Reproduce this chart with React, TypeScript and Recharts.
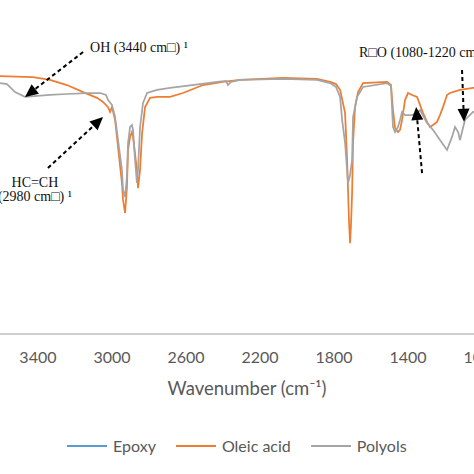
import { LineChart, Line, XAxis, YAxis, ReferenceLine } from "recharts";

// Polyols (grey) trace, wavenumber in cm-1 and transmittance
const polyolsWavenumber = [
  3605, 3567, 3524, 3470, 3335, 3243, 3135, 3064, 3032, 3021, 3000, 2983, 2967, 2946, 2940, 2929, 2919, 2913,
  2902, 2892, 2886, 2875, 2865, 2859, 2848, 2832, 2810, 2756, 2686, 2524, 2432, 2383, 2373, 2356, 2308, 2075,
  1892, 1821, 1789, 1767, 1756, 1740, 1724, 1713, 1702, 1697, 1675, 1643, 1513, 1492, 1481, 1470, 1454, 1443,
  1432, 1416, 1378, 1335, 1297, 1265, 1227, 1189, 1162, 1146, 1129, 1119, 1092, 1048, 957,
];
const polyolsT = [
  78.4, 78.1, 75.6, 74.1, 74.7, 75.0, 75.3, 75.3, 74.7, 73.1, 71.6, 67.8, 60.6, 51.3, 45.0, 42.8, 49.1, 59.7,
  64.7, 65.3, 63.8, 54.4, 47.2, 51.3, 64.7, 72.2, 75.3, 76.3, 76.9, 78.1, 78.8, 79.1, 77.8, 78.8, 79.4, 79.7,
  79.4, 78.4, 77.2, 74.1, 66.9, 59.7, 47.2, 49.7, 54.4, 67.8, 74.1, 77.2, 78.4, 77.5, 64.7, 63.1, 64.7, 66.9,
  69.4, 68.4, 68.4, 70.0, 65.9, 63.8, 60.6, 57.5, 61.6, 64.7, 63.1, 60.6, 66.9, 69.4, 70.0,
];

// Oleic acid (orange) trace
const oleicWavenumber = [
  3605, 3427, 3335, 3243, 3156, 3081, 3048, 3021, 3010, 3000, 2983, 2967, 2946, 2940, 2929, 2919, 2913, 2902,
  2892, 2886, 2865, 2859, 2848, 2837, 2821, 2794, 2756, 2686, 2616, 2508, 2400, 2308, 2075, 1892, 1821, 1789,
  1767, 1740, 1729, 1719, 1713, 1708, 1702, 1697, 1686, 1670, 1643, 1513, 1492, 1481, 1470, 1454, 1443, 1432,
  1416, 1400, 1378, 1351, 1335, 1319, 1297, 1281, 1265, 1243, 1227, 1211, 1189, 1173, 1119, 1048, 957,
];
const oleicT = [
  80.6, 80.3, 79.4, 77.8, 75.6, 73.8, 72.5, 70.9, 69.4, 70.9, 66.9, 58.4, 47.2, 41.9, 37.8, 45.9, 57.5, 61.6,
  63.1, 61.6, 51.3, 45.6, 51.3, 62.8, 70.9, 73.8, 74.1, 74.1, 75.3, 77.8, 78.8, 79.4, 80.0, 79.7, 78.8, 78.1,
  76.3, 69.1, 54.4, 35.6, 28.4, 34.1, 44.1, 59.7, 70.9, 75.6, 78.4, 78.8, 77.8, 70.0, 64.4, 63.1, 63.8, 66.9,
  73.1, 75.3, 74.7, 74.1, 71.6, 69.1, 66.3, 64.7, 65.3, 66.3, 68.4, 70.9, 74.7, 75.3, 76.3, 76.9, 77.2,
];

const xTicks = [3400, 3000, 2600, 2200, 1800, 1400, 1000];

const legendNames = ["Epoxy", "Oleic acid", "Polyols"];
const legendColors = ["#5B9BD5", "#ED7D31", "#A5A5A5"];

// annotation arrows: tail -> head, in data units
const arrows = [
  { tail: [3156, 88.1], head: [3470, 74.1], lines: ["OH (3440 cm\u25A1) \u00B9"], dx: 7, dy: 0, anchor: "start" },
  { tail: [3346, 51.9], head: [3048, 67.8], lines: ["HC=CH", "(2980 cm\u25A1) \u00B9"], dx: -13, dy: 19, anchor: "middle" },
  { tail: [1324, 50.3], head: [1356, 70.9], lines: [], dx: 0, dy: 0, anchor: "start" },
  { tail: [1108, 82.5], head: [1097, 66.3], lines: ["R\u25A1O (1080-1220 cm\u25A1) \u00B9"], dx: -103, dy: -13, anchor: "start" },
];

const polyolsData = polyolsWavenumber.map((wn, i) => ({ wn, t: polyolsT[i] }));
const oleicData = oleicWavenumber.map((wn, i) => ({ wn, t: oleicT[i] }));

function arrowShape(lines: string[], dx: number, dy: number, anchor: string) {
  return (props: any) => {
    const { x1, y1, x2, y2 } = props;
    const ang = Math.atan2(y2 - y1, x2 - x1);
    const len = 13;
    const half = 6;
    const bx = x2 - len * Math.cos(ang);
    const by = y2 - len * Math.sin(ang);
    const px = -Math.sin(ang) * half;
    const py = Math.cos(ang) * half;
    return (
      <g>
        <line x1={x1} y1={y1} x2={bx} y2={by} stroke="#000" strokeWidth={2} strokeDasharray="4 3" />
        <polygon points={`${x2},${y2} ${bx + px},${by + py} ${bx - px},${by - py}`} fill="#000" />
        {lines.map((s, i) => (
          <text
            key={i}
            x={x1 + dx}
            y={y1 + dy + i * 14}
            textAnchor={anchor as any}
            fontFamily="'Liberation Serif', serif"
            fontSize={14}
            fill="#111"
          >
            {s}
          </text>
        ))}
      </g>
    );
  };
}

export default function App() {
  return (
    <div
      style={{
        position: "fixed",
        left: 0,
        top: 0,
        width: 474,
        height: 474,
        overflow: "hidden",
        background: "#fff",
      }}
    >
      <LineChart width={519} height={474} margin={{ top: 14, right: 0, bottom: 110, left: 0 }}>
        <XAxis
          dataKey="wn"
          type="number"
          domain={[800, 3605]}
          reversed
          allowDataOverflow
          ticks={xTicks}
          tickLine={false}
          tickMargin={12}
          axisLine={{ stroke: "#BFBFBF", strokeWidth: 1.5 }}
          tick={{ fill: "#595959", fontSize: 16, fontFamily: "Lato, sans-serif" }}
          height={30}
        />
        <YAxis type="number" domain={[0, 100]} hide />
        <Line
          data={oleicData}
          dataKey="t"
          name="Oleic acid"
          stroke="#ED7D31"
          strokeWidth={1.75}
          dot={false}
          type="linear"
          isAnimationActive={false}
        />
        <Line
          data={polyolsData}
          dataKey="t"
          name="Polyols"
          stroke="#A5A5A5"
          strokeWidth={1.75}
          dot={false}
          type="linear"
          isAnimationActive={false}
        />
        {arrows.map((a, i) => (
          <ReferenceLine
            key={i}
            segment={[
              { x: a.tail[0], y: a.tail[1] },
              { x: a.head[0], y: a.head[1] },
            ]}
            ifOverflow="visible"
            shape={arrowShape(a.lines, a.dx, a.dy, a.anchor)}
          />
        ))}
      </LineChart>
      <div
        style={{
          position: "absolute",
          left: 0,
          top: 376,
          width: 494,
          textAlign: "center",
          fontFamily: "Lato, sans-serif",
          fontSize: 18.5,
          lineHeight: "24px",
          color: "#595959",
        }}
      >
        Wavenumber (cm⁻¹)
      </div>
      <div
        style={{
          position: "absolute",
          left: 67,
          top: 436,
          display: "flex",
          alignItems: "center",
          fontFamily: "Lato, sans-serif",
          fontSize: 16,
          lineHeight: "20px",
          color: "#595959",
        }}
      >
        {legendNames.map((name, i) => (
          <div key={name} style={{ display: "flex", alignItems: "center", marginRight: 20 }}>
            <div style={{ width: 40, height: 2, background: legendColors[i], marginRight: 6 }} />
            <span>{name}</span>
          </div>
        ))}
      </div>
    </div>
  );
}
